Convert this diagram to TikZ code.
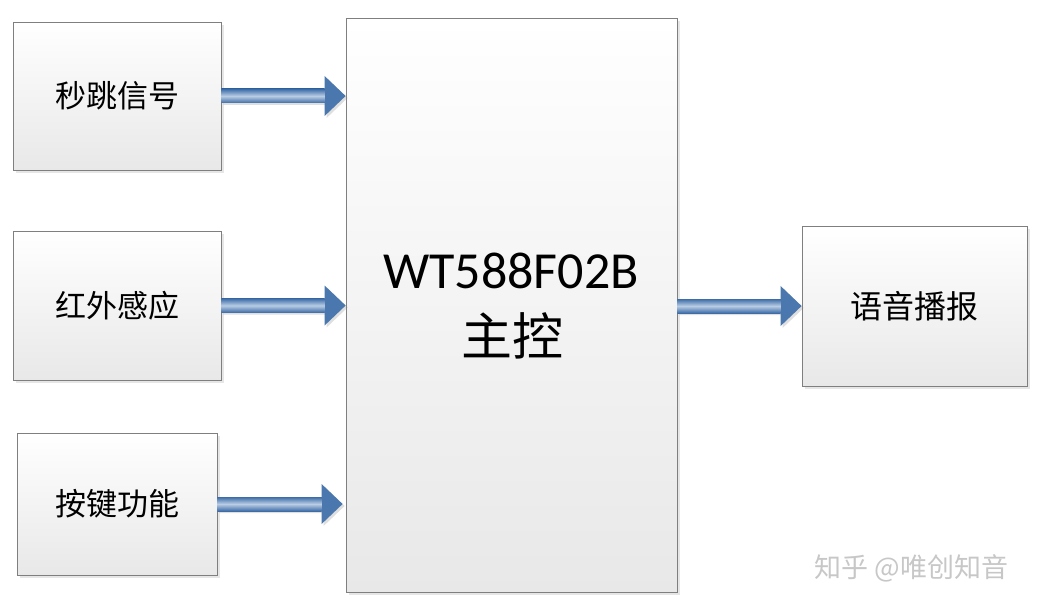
\documentclass[tikz,border=0pt]{standalone}
\usepackage{fontspec}
\setmainfont{Carlito}
\newfontfamily\cjk{Noto Sans CJK SC}
\usepackage{tikz}
\usetikzlibrary{calc}
\usetikzlibrary{shadows}

\definecolor{arrowblue}{HTML}{4A78AE}
\definecolor{arrowdark}{HTML}{3D6CA6}
\definecolor{arrowlight}{HTML}{B9CDE4}
\definecolor{boxline}{HTML}{7F7F7F}

% shaded block arrow from #1 to #2
\newcommand{\fatarrow}[2]{%
  \fill[arrowblue, drop shadow={shadow xshift=2pt,shadow yshift=-2pt,opacity=0.25}]
    ($(#1)+(0,-7)$) -- ($(#2)+(-21,-7)$) -- ($(#2)+(-21,-20)$) -- (#2)
    -- ($(#2)+(-21,20)$) -- ($(#2)+(-21,7)$) -- ($(#1)+(0,7)$) -- cycle;
  \shade[top color=arrowdark, bottom color=arrowdark, middle color=arrowlight]
    ($(#1)+(0,-7)$) rectangle ($(#2)+(-21,7)$);
}

\begin{document}
\begin{tikzpicture}[x=1pt,y=-1pt,
    block/.style={rectangle, draw=boxline, line width=0.8pt, top color=white, bottom color=black!9,
      drop shadow={shadow xshift=3pt,shadow yshift=-3pt,opacity=0.2},
      inner sep=0pt, font=\cjk\fontsize{31}{36}\selectfont}]

      \useasboundingbox (0,0) rectangle (1038,612);

      \node[block, minimum width=208pt, minimum height=148pt] (sec) at (117, 96)    {秒跳信号};
      \node[block, minimum width=208pt, minimum height=149pt] (ir)  at (117, 305.5) {红外感应};
      \node[block, minimum width=200pt, minimum height=142pt] (key) at (117, 504)   {按键功能};
      \node[block, minimum width=331pt, minimum height=574pt] (mcu) at (511.5, 305) {};
      \node[font=\fontsize{52}{60}\selectfont, inner sep=0pt] (mcuname) at (511, 271) {WT588F02B};
      \node[font=\cjk\fontsize{51}{60}\selectfont, inner sep=0pt] (mcurole) at (512, 336) {主控};
      \node[block, minimum width=225pt, minimum height=160pt, font=\cjk\fontsize{32}{36}\selectfont] (voice) at (914.5, 306) {语音播报};

      \fatarrow{sec.east}{sec.east -| mcu.west}
      \fatarrow{ir.east}{ir.east -| mcu.west}
      \fatarrow{key.east}{$(key.east -| mcu.west)+(-3,0)$}
      \fatarrow{mcu.east |- voice.west}{voice.west}

      \node[text=black!22, font=\cjk\fontsize{27}{30}\selectfont, anchor=east] (mark) at (1012, 568) {知乎 @唯创知音};
    \end{tikzpicture}
\end{document}
